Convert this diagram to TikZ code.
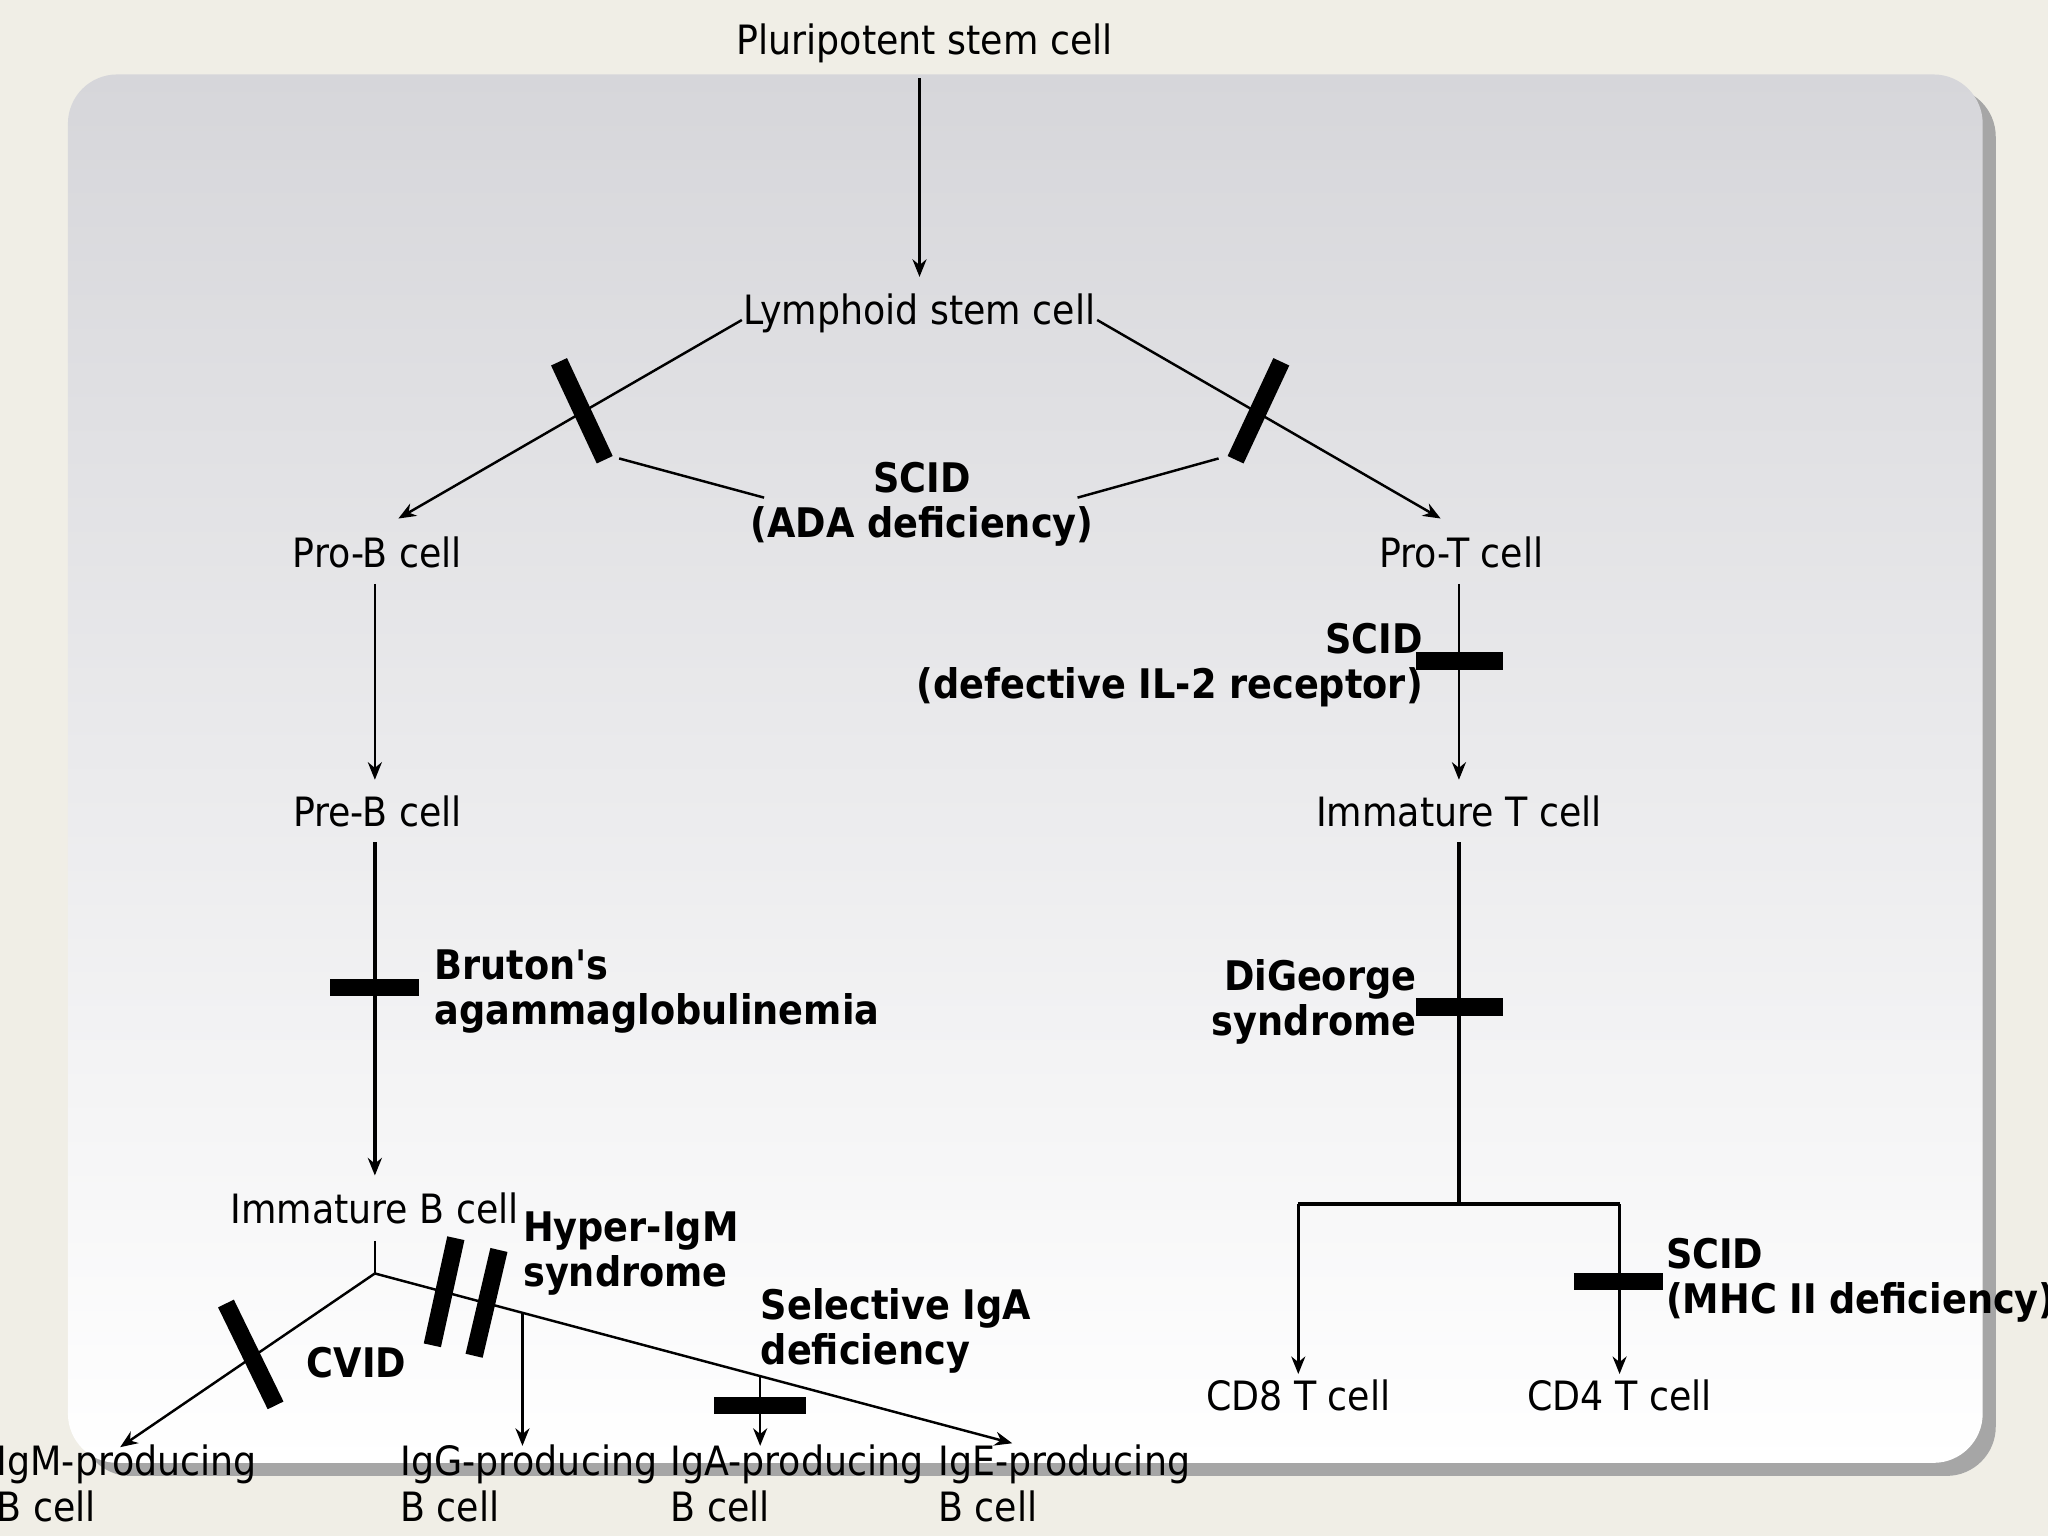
\documentclass[tikz,border=0pt]{standalone}
\usepackage{fontspec}
\setmainfont{DejaVu Sans Condensed}
\usetikzlibrary{arrows.meta}
\definecolor{bg}{HTML}{F0EEE6}
\definecolor{topg}{HTML}{D6D6DA}
\begin{document}
\begin{tikzpicture}[x=0.01306cm,y=-0.01306cm,
  lab/.style={font=\fontsize{11.5}{13}\selectfont, inner sep=0pt},
  bl/.style={font=\bfseries\fontsize{11.6}{12.8}\selectfont, inner sep=0pt, align=left},
  ln/.style={line width=0.7pt},
  ar/.style={line width=0.7pt,-{Stealth[length=5pt,width=4pt]}},
  bar/.style={line width=5pt}]
\fill[bg] (0,0) rectangle (1568,1176);
\useasboundingbox (0,0) rectangle (1568,1176);
\fill[gray!70, rounded corners=14pt] (62,67) rectangle (1528,1130);
\shade[top color=topg, bottom color=white, rounded corners=14pt] (52,57) rectangle (1518,1120);
% nodes
\node[lab] (pluri) at (708,33) {Pluripotent stem cell};
\node[lab] (lymph) at (704,240) {Lymphoid stem cell};
\node[lab] (proB) at (289,423) {Pro-B cell};
\node[lab] (proT) at (1119,423) {Pro-T cell};
\node[lab] (preB) at (289,621) {Pre-B cell};
\node[lab] (immT) at (1117,621) {Immature T cell};
\node[lab] (immB) at (287,925) {Immature B cell};
\node[lab,align=left,anchor=north west] (igm) at (-3,1106) {IgM-producing\\B cell};
\node[lab,align=left,anchor=north west] (igg) at (306,1106) {IgG-producing\\B cell};
\node[lab,align=left,anchor=north west] (iga) at (513,1106) {IgA-producing\\B cell};
\node[lab,align=left,anchor=north west] (ige) at (718,1106) {IgE-producing\\B cell};
\node[lab] (cd8) at (994,1068) {CD8 T cell};
\node[lab] (cd4) at (1240,1068) {CD4 T cell};
% labels
\node[bl,align=center] (scid1) at (706,386) {SCID\\(ADA deficiency)};
\node[bl,align=right,anchor=east] (scid2) at (1090,509) {SCID\\(defective IL-2 receptor)};
\node[bl,anchor=west] (bruton) at (332,759) {Bruton\textquotesingle s\\agammaglobulinemia};
\node[bl,align=right,anchor=east] (dig) at (1085,767) {DiGeorge\\syndrome};
\node[bl,anchor=west] (scid3) at (1275,980) {SCID\\(MHC II deficiency)};
\node[bl,anchor=west] (hyper) at (400,960) {Hyper-IgM\\syndrome};
\node[bl,anchor=west] (sel) at (582,1019) {Selective IgA\\deficiency};
\node[bl] (cvid) at (273,1043) {CVID};
% connectors
\coordinate (lb) at (568,245); \coordinate (rb) at (840,245);
\coordinate (jB) at (287,975); \coordinate (jT) at (1117,922);
\coordinate (ps) at (704,60);
\draw[ar] (ps) -- (704,212);
\draw[ar] (lb) -- (305,397);
\draw[ar] (rb) -- (1103,397);
\draw[bar] (428,277) -- (463,352);
\draw[bar] (981,277) -- (946,352);
\draw[ln] (474,351) -- (585,381);
\draw[ln] (825,381) -- (933,351);
\draw[ar] (287,447) -- (287,597);
\draw[ar] (1117,447) -- (1117,597);
\draw[bar] (1084,506) -- (1151,506);
\draw[ar,line width=1.1pt] (287,645) -- (287,900);
\draw[bar] (253,756) -- (321,756);
\draw[line width=1.1pt] (1117,645) -- (jT);
\draw[bar] (1084,771) -- (1151,771);
\draw[line width=1.1pt] (994,922) -- (1240,922);
\draw[ar] (994,922) -- (994,1052);
\draw[ar] (1240,922) -- (1240,1052);
\draw[bar] (1205,981) -- (1273,981);
\draw[ln] (287,950) -- (jB);
\draw[ar] (jB) -- (92,1108);
\draw[ar] (jB) -- (775,1105);
\draw[bar] (173,998) -- (211,1076);
\draw[ar] (400,1005) -- (400,1107);
\draw[ar] (582,1053) -- (582,1107);
\draw[bar] (349,948) -- (331,1030);
\draw[bar] (382,957) -- (363,1038);
\draw[bar] (547,1076) -- (617,1076);
\end{tikzpicture}
\end{document}
